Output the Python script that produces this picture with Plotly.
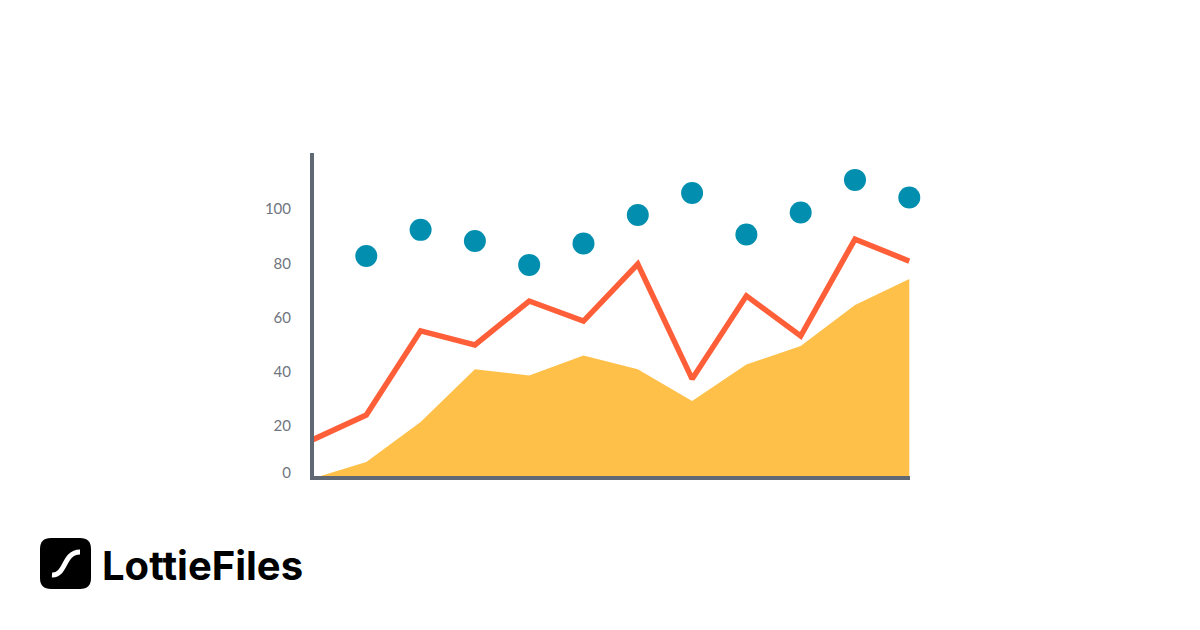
import plotly.graph_objects as go

idx = list(range(12))
line_vals = [14.9, 24.1, 55.1, 49.9, 66.1, 58.7, 79.7, 37.4, 68.0, 53.2, 88.9, 80.8]
dot_idx = list(range(1, 12))
dot_vals = [82.7, 92.3, 88.2, 79.4, 87.3, 97.8, 105.9, 90.6, 98.7, 110.7, 104.2]
area_idx = [0.05] + list(range(1, 12))
area_vals = [1.0, 6.8, 21.5, 41.0, 38.7, 46.0, 41.0, 29.3, 42.7, 49.5, 64.6, 74.2]
tick_vals = [3, 20, 40, 60, 80, 100]
tick_text = ["0", "20", "40", "60", "80", "100"]

W, H = 1200, 630
L, R, T, B = 314, 910, 153, 476
AX = "#606873"

def px(x):
    return (x - L) / (R - L)

def py(y):
    return (B - y) / (B - T)

fig = go.Figure()
fig.add_trace(go.Scatter(x=area_idx, y=area_vals, mode="none", fill="tozeroy",
                         fillcolor="#FFC04A", showlegend=False))
fig.add_trace(go.Scatter(x=idx, y=line_vals, mode="lines", cliponaxis=False,
                         line=dict(color="#FF5F38", width=5.5, shape="linear"), showlegend=False))
fig.add_trace(go.Scatter(x=dot_idx, y=dot_vals, mode="markers", cliponaxis=False,
                         marker=dict(color="#028FAF", size=22, line=dict(width=0)), showlegend=False))

# logo: rounded square and S-curve, placed in page pixels
r = 11
x0, x1, y0, y1 = 40, 91, 538, 589
square = (f"M {px(x0+r)} {py(y0)} L {px(x1-r)} {py(y0)} Q {px(x1)} {py(y0)} {px(x1)} {py(y0+r)} "
          f"L {px(x1)} {py(y1-r)} Q {px(x1)} {py(y1)} {px(x1-r)} {py(y1)} "
          f"L {px(x0+r)} {py(y1)} Q {px(x0)} {py(y1)} {px(x0)} {py(y1-r)} "
          f"L {px(x0)} {py(y0+r)} Q {px(x0)} {py(y0)} {px(x0+r)} {py(y0)} Z")
curve = (f"M {px(52)} {py(575)} C {px(66)} {py(576)} {px(63)} {py(552)} {px(80)} {py(552)}")
fig.add_shape(type="path", path=square, xref="paper", yref="paper",
              fillcolor="#000000", line=dict(width=0))
fig.add_shape(type="path", path=curve, xref="paper", yref="paper",
              line=dict(color="#FFFFFF", width=5))
fig.add_annotation(x=px(100), y=py(565), xref="paper", yref="paper", text="LottieFiles",
                   showarrow=False, xanchor="left", yanchor="middle",
                   font=dict(family="Inter", size=40, color="#000000", weight=700))

fig.update_layout(
    width=W, height=H, autosize=False,
    margin=dict(l=L, r=W - R, t=T, b=H - B),
    paper_bgcolor="#FFFFFF", plot_bgcolor="#FFFFFF",
    xaxis=dict(range=[0.037, 11.013], showgrid=False, zeroline=False, showticklabels=False,
               ticks="", showline=True, linecolor=AX, linewidth=4),
    yaxis=dict(range=[1.66, 120.6], showgrid=False, zeroline=False, tickmode="array",
               tickvals=tick_vals, ticktext=tick_text, ticks="outside", ticklen=16,
               tickcolor="rgba(0,0,0,0)", showline=True, linecolor=AX, linewidth=4,
               tickfont=dict(family="Lato", size=15, color="#6F7580")),
)
fig.write_html("out.html", post_script="document.body.style.margin='0';",
               config={"displayModeBar": False})
